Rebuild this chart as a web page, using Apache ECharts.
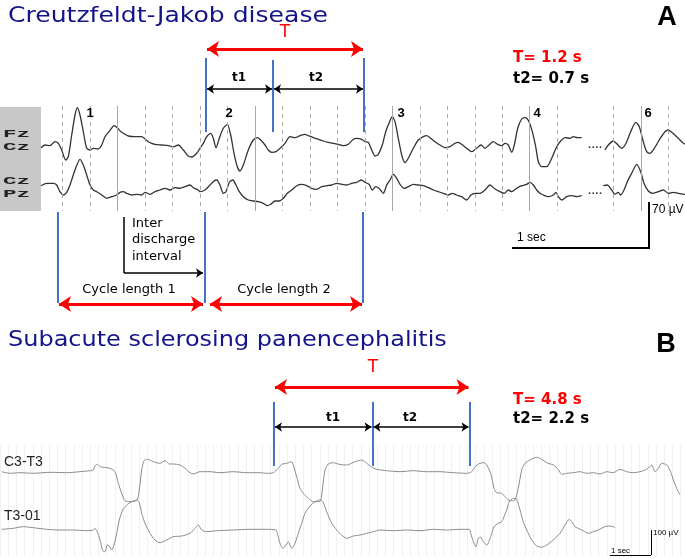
<!DOCTYPE html>
<html lang="en">
<head>
  <meta charset="UTF-8">
  <title>CJD / SSPE periodic discharges</title>
  <script src="https://cdn.jsdelivr.net/npm/echarts@6/dist/echarts.min.js"></script>
</head>
<body style="margin: 0; background: #fff;">
<div id="main" style="width: 685px; height: 559px;"></div>
<script type="text/javascript">
  // traces, [x, y] in the page's pixel frame
  const fzCz = [[41,147.7],[45,145],[50,145.7],[55,141.7],[58.3,143.3],[61.7,150],[65.7,160],[68.3,156.7],[71.7,135],[75,115],[77.3,107.7],[80,115],[83.3,131.7],[86.7,148.3],[90,150],[93.3,148.3],[98.3,149],[101.7,145],[105,136.7],[109,131.7],[114.3,125.7],[117.7,128.3],[121,131.7],[125,134.3],[128.3,136],[135,136.7],[141.7,136.7],[145,139],[148.3,141.7],[151.7,143.3],[155,144.3],[161.7,145],[168.3,145.7],[173.3,146.7],[178.3,145],[183.3,150],[188.3,156],[191.7,157],[196.7,153.3],[200,148.3],[203.3,143.3],[206.7,136.7],[210.7,133.3],[213.3,138.3],[216,147.7],[219.3,138.3],[223.3,128.3],[227.3,124.3],[230.7,135],[234,153.3],[237.3,166.7],[240,171],[243.3,165],[248.3,150],[253.3,140],[257.3,137.7],[261.7,141],[265,145],[268.3,150],[271.7,152.3],[276,151.7],[280,148.3],[285,143.3],[290,136.7],[295,137.7],[300,135.7],[305,134.3],[308.3,135.7],[313.3,137.7],[318.3,139.3],[323.3,141],[328.3,142.3],[333.3,143.3],[338.3,144.3],[343.3,145.7],[348.3,144.3],[353.3,139.3],[356.7,138.3],[361.7,139.3],[365,141.7],[368.3,142.3],[371.7,150],[375,156],[378.3,154.3],[382.3,145],[385.7,131.7],[389,123.3],[392.3,116.7],[395,121.7],[398.3,138.3],[401.7,155],[405,162.7],[408.3,158.3],[413.3,148.3],[418.3,140],[423.3,136.7],[426.7,135.7],[430,137.7],[435,141.7],[440,145],[445,147.7],[450,146.7],[455,143.3],[458.3,142.3],[461.7,144.3],[466.7,148.3],[471.7,151.7],[476.7,148.3],[481,145],[485,148.3],[489,145],[493.3,141.7],[497.7,144.3],[501.7,145.7],[505,143.3],[508.3,145],[511.7,152.3],[514.3,145],[517.7,128.3],[521.7,119],[525,117.7],[529,121.7],[532.3,131.7],[535.7,146.7],[538.3,161.7],[541.7,166.7],[546.7,166.7],[551.7,158.3],[556.7,146.7],[560.7,141],[565,137.7],[570,138.3],[573.3,136.7],[577.3,137.7],[581.7,137.7]]
  const fzCzEnd = [[605,150],[608.3,145],[613.3,141],[617.3,144.3],[621.7,148.3],[626,143.3],[630.7,131.7],[635.7,122.3],[639.3,126.7],[643.3,141.7],[646.7,151.7],[650,153.3],[653.3,150],[656.7,144.3],[660.7,137.7],[665,131.7],[668.3,130],[671.7,132.3],[676.7,136.7],[681.7,141.7],[685,144.3]]
  const czPz = [[41,185.7],[46.7,183.3],[53.3,183.3],[56.7,185],[60,191.7],[63.3,195],[66.7,192.3],[70,185],[75,170],[80,159.3],[83.3,165],[86.7,175],[90,185],[93.3,190],[96.7,191.7],[101.7,195],[106.7,198.3],[111.7,196.7],[116.7,195],[120,192.3],[123.3,191.7],[126.7,193.3],[131.7,195],[136.7,194.3],[141.7,195],[145,192.3],[150,194.3],[155,191.7],[160,190],[165,188.3],[170,190],[175,187.7],[180,188.3],[185,186.7],[190,185],[193.3,187.7],[198.3,190],[200,191.7],[205,190],[210,185],[214,181],[216.7,180],[220,185],[223.3,193.3],[226,191.7],[229.3,182.3],[232.7,180],[236,185],[239.3,191.7],[243.3,196.7],[248.3,200],[253.3,201],[258.3,201.7],[263.3,203.3],[267.3,205.7],[270.7,204.3],[275,201],[279.3,201],[283.3,198.3],[287.3,193.3],[291.7,190],[296.7,185.7],[301.7,184.3],[306.7,185.7],[311.7,188.3],[316.7,189.3],[321.7,186.7],[326.7,185.7],[331.7,185],[336.7,183.3],[341.7,184.3],[346.7,185],[351.7,183.3],[356.7,182.3],[361.7,180],[365,182.3],[369,184.3],[372.3,190],[375.7,186.7],[379,188.3],[383.3,193.3],[386.7,185],[390,180],[393.3,174.3],[396.7,178.3],[400,184.3],[404.3,188.3],[408.3,186.7],[413.3,184.3],[418.3,185],[423.3,185.7],[428.3,187.7],[433.3,190],[438.3,191.7],[443.3,193.3],[448.3,195],[452.3,193.3],[456.7,195],[461.7,196.7],[466.7,200],[471,195],[475,193.3],[480,193.3],[485,190],[490,185],[495,189],[500,191.7],[504.3,193.3],[508.3,190],[511.7,191.7],[516.7,188.3],[521.7,185.7],[526.7,184.3],[530,182.3],[533.3,185],[536.7,190],[540,193.3],[543.3,195],[548.3,196.7],[553.3,195],[556,192.3],[558.3,196.7],[561.7,200],[566.7,196.7],[571.7,195.7],[576.7,196.7],[581.7,195.7]]
  const czPzEnd = [[603.3,185.7],[607.3,185],[611.7,190],[615,194.3],[618.3,192.3],[620.7,195],[624,190],[627.3,181.7],[631.7,173.3],[636.7,164.3],[640.7,171.7],[644,183.3],[648.3,191],[653.3,193.3],[658.3,191.7],[663.3,190],[668.3,193.3],[673.3,192.3],[678.3,193.3],[685,194.3]]

  const c3t3 = [[1.7,471.7],[10,473.3],[20,472.7],[33.3,473.3],[50,472.3],[66.7,472.7],[80,471.7],[90,470.7],[93.3,470],[95,466],[97.3,464.3],[100,466.7],[103.3,467.3],[110,468.3],[115,471.7],[118.3,483.3],[121.7,493.3],[125,500.7],[130,501.7],[135,501],[137.3,500],[139.3,490],[141.7,470],[144,460.7],[147.3,459.3],[153.3,461.7],[160,463.3],[165,460.7],[169.3,464],[173.3,464],[180,465],[185,468.3],[190,472.7],[193.3,474],[200,471.7],[210,471.7],[220,472.7],[233.3,471.7],[246.7,472.7],[260,472.7],[266.7,473.3],[273.3,472.7],[278.3,468.3],[281.7,464.3],[286.7,463.3],[291.7,461.7],[293.3,465],[296.7,476.7],[300,488.3],[303.3,493.3],[308.3,498.3],[313.3,501.7],[318.3,501.7],[320.7,500.7],[322.7,486.7],[325,470],[328.3,464],[333.3,462.7],[340,464.5],[346.7,465],[355,461.7],[361.7,460],[366.7,463.3],[371.7,467.3],[376.7,469.3],[386.7,470.7],[400,471.7],[413.3,470.7],[426.7,471.7],[440,471.7],[453.3,472.7],[466.7,473.3],[471.7,471.7],[475,466.7],[480,463.3],[484,462.7],[486.7,465],[490.7,473.3],[494,488.3],[496.7,492.7],[501.7,493.3],[505,496.7],[508.3,500],[511.7,500.7],[515,500],[518.3,488.3],[521.7,470],[525,463.3],[530,460],[536.7,457.3],[541.7,459.3],[546.7,462.7],[553.3,465],[558.3,469.3],[561.7,474.3],[566.7,473.3],[573.3,472.7],[580,471.7],[586.7,473.3],[593.3,472.7],[600,474],[606.7,471.7],[613.3,472.7],[620,469.3],[626.7,471.7],[633.3,472.7],[640,471.7],[646.7,469.3],[651.7,465],[655,471.7],[658.3,468.3],[661.7,463.3],[666.7,465],[670.7,471.7],[673.3,480],[676.7,488.3],[680,495]]
  const t3o1 = [[1.7,529.3],[13.3,528.3],[23.3,526.7],[33.3,527.7],[46.7,529.3],[60,530],[73.3,530],[86.7,530.7],[93.3,530],[95,528.3],[97.3,531.7],[100,540],[102.7,550.7],[105,551.7],[107.3,545],[109.3,546],[111.7,550],[114,545],[116.7,533.3],[119.3,520],[122.7,510],[126.7,505],[131.7,501.7],[136.7,500],[139.3,502.7],[141.7,513.3],[145,523.3],[150,533.3],[155,540],[160,542.7],[166.7,540],[173.3,536.7],[181.7,536],[190,533.3],[195,528.3],[198.3,525],[201.7,530],[206.7,531.7],[216.7,530.7],[233.3,530],[250,529.3],[266.7,529.3],[276,530],[277.3,533.3],[280,543.3],[282.7,548.3],[286,545],[288.3,541.7],[291.7,548.3],[295,543.3],[298.3,533.3],[301.7,523.3],[305,513.3],[310,506],[315,501.7],[320,500],[323.3,502.7],[326.7,511.7],[331.7,523.3],[336.7,530],[341.7,535],[346.7,538.3],[353.3,536],[360,535],[366.7,533.3],[373.3,531.7],[380,530],[393.3,530.7],[406.7,530],[420,530.7],[433.3,529.3],[446.7,530],[460,529.3],[469.3,529.3],[470.7,533.3],[473.3,541.7],[476,546.7],[478.3,538.3],[480.7,537.3],[483.3,541.7],[486.7,545],[490.7,536.7],[494,526.7],[498.3,523.3],[501.7,521.7],[504,516.7],[506.7,510],[509.3,501.7],[513.3,498.3],[516.7,499.3],[520,510],[523.3,521.7],[526.7,530],[531.7,540],[536.7,546],[541.7,547.3],[546.7,545],[553.3,540],[560,533.3],[565,525],[569.3,519.3],[571.7,521.7],[575,526.7],[578.3,528.3],[583.3,530.7],[588.3,533.3],[593.3,531.7],[598.3,530],[603.3,527.3],[608.3,526],[613.3,526.7],[615,527.7]]

  // time marks (x) and grid lines of panel A
  const cjdMarks = [206, 273, 364]
  const cjdCycles = [58, 205, 363]
  const cjdDashed = [62.5, 90, 145, 172.5, 200, 227.5, 282.5, 310, 337.5, 365, 420, 447.5, 475, 502.5, 557, 613, 668]
  const cjdSolid = [117.5, 255, 392.5, 529.5, 641]
  const cjdPeaks = [['1', 90], ['2', 229], ['3', 401], ['4', 537], ['6', 648]]
  const sspeMarks = [274, 372.5, 469.5]

  const myChart = echarts.init(document.getElementById('main'));

  const seg = (x1, y1, x2, y2) => [{coord: [x1, y1]}, {coord: [x2, y2]}]

  function lines(name, data, lineStyle, symbol, symbolSize) {
    return {
      type: 'line', name: name, data: [], xAxisIndex: 0, yAxisIndex: 0, silent: true,
      markLine: {
        silent: true, animation: false,
        symbol: symbol || 'none', symbolSize: symbolSize || 8,
        label: {show: false}, emphasis: {disabled: true},
        lineStyle: Object.assign({type: 'solid'}, lineStyle), data: data
      }
    }
  }

  function trace(name, data, color, width) {
    return {
      type: 'line', name: name, data: data, xAxisIndex: 0, yAxisIndex: 0,
      symbol: 'none', smooth: 0.25, silent: true, animation: false,
      lineStyle: {color: color, width: width}
    }
  }

  const comic = '"Comic Sans MS", "DejaVu Sans", sans-serif'
  const arial = '"Liberation Sans", Arial, sans-serif'
  const mono = '"Liberation Mono", monospace'
  const navy = '#14148a'

  function txt(text, x, y, font, fill, align, extra) {
    return Object.assign({
      type: 'text', x: x, y: y, z: 100, silent: true,
      style: {text: text, font: font, fill: fill || '#000', align: align || 'left', verticalAlign: 'middle'}
    }, extra || {})
  }

  const graphics = [
    {type: 'rect', shape: {x: 0, y: 107, width: 41, height: 104}, style: {fill: '#c8c8c8'}, silent: true, z: -1},
    txt('Creutzfeldt-Jakob disease', 8, 16, '22px ' + comic, navy, 'left', {scaleX: 1.14}),
    txt('A', 667, 18, 'bold 27px ' + arial, '#000', 'center'),
    txt('T', 285, 33, '17px ' + comic, '#f00', 'center'),
    txt('T= 1.2 s', 513, 58, 'bold 15px ' + comic, '#f00'),
    txt('t2= 0.7 s', 513, 79, 'bold 15px ' + comic, '#000'),
    txt('t1', 239, 78, 'bold 12px ' + comic, '#000', 'center'),
    txt('t2', 316, 78, 'bold 12px ' + comic, '#000', 'center'),
    txt('Fz', 3, 134, 'bold 11px ' + mono, '#222', 'left', {scaleX: 2.05}),
    txt('Cz', 3, 147, 'bold 11px ' + mono, '#222', 'left', {scaleX: 2.05}),
    txt('Cz', 3, 181, 'bold 11px ' + mono, '#222', 'left', {scaleX: 2.05}),
    txt('Pz', 3, 194, 'bold 11px ' + mono, '#222', 'left', {scaleX: 2.05}),
    txt('····', 588, 148, 'bold 11px ' + arial, '#333'),
    txt('····', 588, 194, 'bold 11px ' + arial, '#333'),
    txt('Inter', 132, 224, '13px ' + comic, '#000'),
    txt('discharge', 132, 240, '13px ' + comic, '#000'),
    txt('interval', 132, 257, '13px ' + comic, '#000'),
    txt('Cycle length 1', 129, 290, '13px ' + comic, '#000', 'center'),
    txt('Cycle length 2', 284, 290, '13px ' + comic, '#000', 'center'),
    txt('1 sec', 517, 238, '12px ' + arial, '#000'),
    txt('70 µV', 652, 210, '12px ' + arial, '#000'),
    txt('Subacute sclerosing panencephalitis', 8, 340, '22px ' + comic, navy, 'left', {scaleX: 1.09}),
    txt('B', 666, 345, 'bold 27px ' + arial, '#000', 'center'),
    txt('T', 373, 368, '17px ' + comic, '#f00', 'center'),
    txt('T= 4.8 s', 513, 400, 'bold 15px ' + comic, '#f00'),
    txt('t2= 2.2 s', 513, 419, 'bold 15px ' + comic, '#000'),
    txt('t1', 333, 418, 'bold 12px ' + comic, '#000', 'center'),
    txt('t2', 410, 418, 'bold 12px ' + comic, '#000', 'center'),
    txt('C3-T3', 4, 462, '14px ' + arial, '#222'),
    txt('T3-01', 4, 516, '14px ' + arial, '#222'),
    txt('1 sec', 611, 551, '8px ' + arial, '#000'),
    txt('100 µV', 653, 533, '8px ' + arial, '#000')
  ].concat(cjdPeaks.map(([s, x]) => txt(s, x, 113, 'bold 13px ' + arial, '#000', 'center')))

  const blue = {color: '#4472c4', width: 2}

  const option = {
    animation: false,
    grid: [
      {left: 0, right: 0, top: 0, bottom: 0},
      {left: 0, right: 0, top: 445, height: 112}
    ],
    xAxis: [
      {type: 'value', gridIndex: 0, min: 0, max: 685, show: false},
      {type: 'value', gridIndex: 1, min: 0, max: 685, interval: 8.2,
        axisLine: {show: false}, axisTick: {show: false}, axisLabel: {show: false},
        splitLine: {show: true, lineStyle: {color: '#f1f1f1', width: 1}}}
    ],
    yAxis: [
      {type: 'value', gridIndex: 0, min: 0, max: 559, inverse: true, show: false},
      {type: 'value', gridIndex: 1, min: 0, max: 1, show: false}
    ],
    graphic: graphics,
    series: [
      {type: 'line', data: [], xAxisIndex: 1, yAxisIndex: 1},
      lines('dashed', cjdDashed.map(x => seg(x, 106, x, 211)), {color: '#aaa', width: 1, type: [4, 4]}),
      lines('solid', cjdSolid.map(x => seg(x, 106, x, 211)), {color: '#a8a8a8', width: 1}),
      trace('Fz-Cz', fzCz, '#333', 1.3),
      trace('Fz-Cz end', fzCzEnd, '#333', 1.3),
      trace('Cz-Pz', czPz, '#333', 1.3),
      trace('Cz-Pz end', czPzEnd, '#333', 1.3),
      trace('C3-T3', c3t3, '#8a8a8a', 1),
      trace('T3-01', t3o1, '#8a8a8a', 1),
      // panel A annotations
      lines('cjd marks', cjdMarks.map((x, i) => seg(x, i === 1 ? 60 : 58, x, 132)), blue),
      lines('cjd cycles', cjdCycles.map(x => seg(x, 212, x, 303)), blue),
      lines('cjd T', [seg(cjdMarks[0] + 1, 49, cjdMarks[2] - 1, 49)], {color: '#f00', width: 3}, ['arrow', 'arrow'], 12),
      lines('cjd t', [seg(cjdMarks[0] + 1, 89, cjdMarks[1] - 1, 89), seg(cjdMarks[1] + 1, 89, cjdMarks[2] - 1, 89)],
        {color: '#000', width: 1.5}, ['arrow', 'arrow'], 7),
      lines('cycle arrows', [seg(cjdCycles[0] + 1, 304, cjdCycles[1] - 2, 304), seg(cjdCycles[1] + 5, 304, cjdCycles[2] - 1, 304)],
        {color: '#f00', width: 3}, ['arrow', 'arrow'], 12),
      lines('interval bar', [seg(124, 217, 124, 273)], {color: '#000', width: 1.5}),
      lines('interval arrow', [seg(124, 273, 203, 273)], {color: '#000', width: 1.5}, ['none', 'arrow'], 7),
      lines('scale A', [seg(512, 248, 650, 248), seg(649, 202, 649, 248)], {color: '#000', width: 2}),
      // panel B annotations
      lines('sspe marks', sspeMarks.map(x => seg(x, 402, x, 466)), blue),
      lines('sspe T', [seg(sspeMarks[0] + 1, 387, sspeMarks[2] - 1, 387)], {color: '#f00', width: 3}, ['arrow', 'arrow'], 12),
      lines('sspe t', [seg(sspeMarks[0] + 1, 427, sspeMarks[1] - 1, 427), seg(sspeMarks[1] + 1, 427, sspeMarks[2] - 1, 427)],
        {color: '#000', width: 1.5}, ['arrow', 'arrow'], 7),
      lines('scale B', [seg(610, 555, 651, 555), seg(651, 530, 651, 555)], {color: '#000', width: 1})
    ]
  };

  myChart.setOption(option);
</script>
</body>
</html>
